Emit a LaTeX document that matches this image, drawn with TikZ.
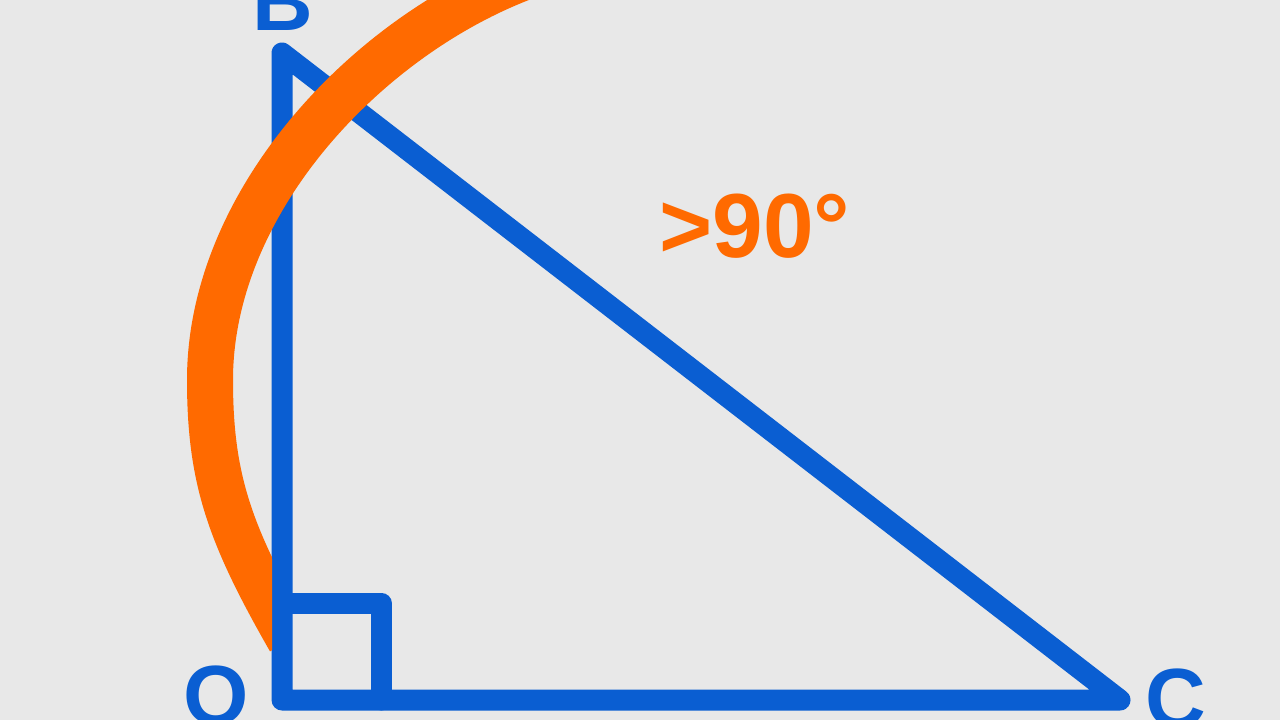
\documentclass[tikz,border=0pt]{standalone}
\usepackage{fontspec}
\setmainfont{Liberation Sans}
\definecolor{bg}{HTML}{E8E8E8}
\definecolor{tblue}{HTML}{0A5ED2}
\definecolor{torange}{HTML}{FF6A00}
\begin{document}
\begin{tikzpicture}[x=1pt,y=-1pt,
  tri/.style={draw=tblue, line width=21pt, line join=round, line cap=round},
  arcband/.style={draw=torange, line width=46pt},
  vlabel/.style={text=tblue, font=\fontsize{84}{90}\selectfont\bfseries, inner sep=0pt, anchor=base},
  anglabel/.style={text=torange, font=\fontsize{91}{96}\selectfont\bfseries, inner sep=0pt, anchor=base}]
\fill[bg] (0,0) rectangle (1280,720);
\useasboundingbox (0,0) rectangle (1280,720);
\clip (0,0) rectangle (1280,720);
\coordinate (O) at (282,700);
\coordinate (B) at (282,53);
\coordinate (C) at (1120,700);
\coordinate (Q1) at (282,603);
\coordinate (Q2) at (381,603);
\coordinate (Q3) at (381,700);
\draw[tri] (O) -- (B) -- (C) -- cycle;
\draw[tri] (Q1) -- (Q2) -- (Q3);
\begin{scope}
  \clip (0,0) -- (1280,0) -- (1280,300) -- (272,300) -- (272,720) -- (0,720) -- cycle;
  \coordinate (A0) at (290,640);
  \coordinate (A1) at (210,380);
  \coordinate (A2) at (530,-25);
  \draw[arcband] (A0) .. controls (230,535) and (210,480) .. (A1)
                      .. controls (210,200) and (370,33) .. (A2)
                      -- ++(150,-55);
\end{scope}
\node[vlabel] (Bl) at (282.5,30) {B};
\node[vlabel] (Ol) at (216,724) {O};
\node[vlabel] (Cl) at (1176,727) {C};
\node[anglabel] (ang) at (755,257) {>90°};
\end{tikzpicture}
\end{document}
